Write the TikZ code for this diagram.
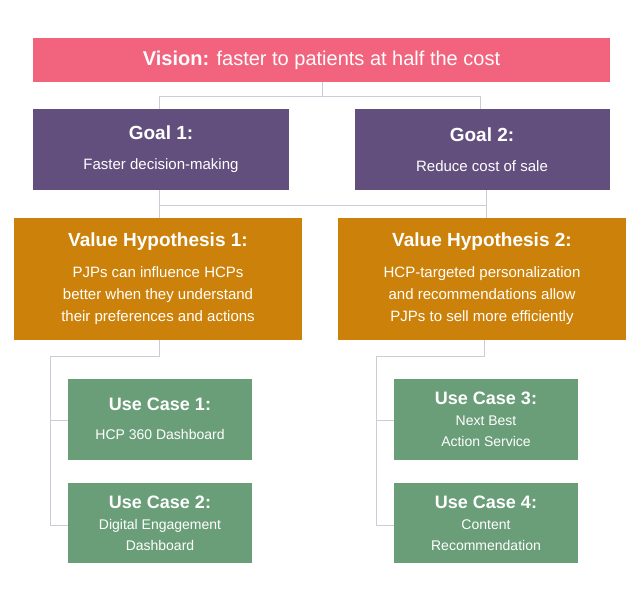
\documentclass[tikz,border=0pt]{standalone}
\usepackage{fontspec}
\setmainfont{Liberation Sans}
\definecolor{pk}{HTML}{F2637D}
\definecolor{pu}{HTML}{634F7D}
\definecolor{or}{HTML}{CC820A}
\definecolor{gr}{HTML}{6A9E78}
\definecolor{ln}{HTML}{CCCCD6}
\begin{document}
\begin{tikzpicture}[x=1pt,y=-1pt,
 box/.style={draw=none,inner sep=0pt,text=white,align=center},
 con/.style={draw=ln,line width=1pt}]
\useasboundingbox[fill=white] (0,0) rectangle (641,591);
\fill[pk] (33,38) rectangle (610,82);
\node[box] (v) at (321.5,60) {\fontsize{20}{24}\selectfont\textbf{Vision:} faster to patients at half the cost};
\coordinate (vb) at (322,82);
\fill[pu] (33,109) rectangle (289,190);
\fill[pu] (355,109) rectangle (610,190);
\node[box,font=\fontsize{15}{22}\selectfont] (g1) at (161,149.5) {{\fontsize{19}{22}\selectfont\textbf{Goal 1:}}\\[8pt]Faster decision-making};
\node[box,font=\fontsize{15}{22}\selectfont] (g2) at (482,149.5) {{\fontsize{19}{22}\selectfont\textbf{Goal 2:}}\\[8pt]Reduce cost of sale};
\fill[or] (14,218) rectangle (302,340);
\fill[or] (338,218) rectangle (626,340);
\node[box,font=\fontsize{15}{22}\selectfont] (h1) at (158,279) {{\fontsize{19}{22}\selectfont\textbf{Value Hypothesis 1:}}\\[9pt]PJPs can influence HCPs\\better when they understand\\their preferences and actions};
\node[box,font=\fontsize{15}{22}\selectfont] (h2) at (482,279) {{\fontsize{19}{22}\selectfont\textbf{Value Hypothesis 2:}}\\[9pt]HCP-targeted personalization\\and recommendations allow\\PJPs to sell more efficiently};
\foreach \x in {68,394}{\fill[gr] (\x,379) rectangle (\x+184,460);}
\foreach \x in {68,394}{\fill[gr] (\x,483) rectangle (\x+184,563);}
\node[box,font=\fontsize{14}{21}\selectfont] (u1) at (160,419) {{\fontsize{18}{22}\selectfont\textbf{Use Case 1:}}\\[8pt]HCP 360 Dashboard};
\node[box,font=\fontsize{14}{21}\selectfont] (u2) at (160,523) {{\fontsize{18}{22}\selectfont\textbf{Use Case 2:}}\\Digital Engagement\\Dashboard};
\node[box,font=\fontsize{14}{21}\selectfont] (u3) at (486,419) {{\fontsize{18}{22}\selectfont\textbf{Use Case 3:}}\\Next Best\\Action Service};
\node[box,font=\fontsize{14}{21}\selectfont] (u4) at (486,523) {{\fontsize{18}{22}\selectfont\textbf{Use Case 4:}}\\Content\\Recommendation};
\draw[con] (vb) -- (322,97) -- (159,97) -- (159,109);
\draw[con] (322,97) -- (480,97) -- (480,109);
\draw[con] (159,190) -- (159,206) -- (486,206) -- (486,190);
\draw[con] (159,206) -- (159,218);
\draw[con] (486,206) -- (486,218);
\draw[con] (159,340) -- (159,357) -- (50,357) -- (50,525) -- (68,525);
\draw[con] (50,420) -- (68,420);
\draw[con] (484,340) -- (484,357) -- (376,357) -- (376,525) -- (394,525);
\draw[con] (376,420) -- (394,420);
\end{tikzpicture}
\end{document}
